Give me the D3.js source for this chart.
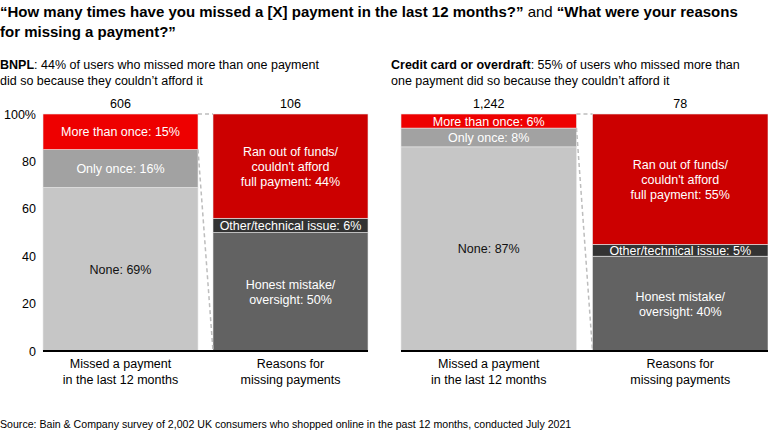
<!DOCTYPE html>
<html>
<head>
<meta charset="utf-8">
<script src="https://cdn.jsdelivr.net/npm/d3@7"></script>
<style>
  body { margin: 0; background: #fff; }
  svg { font-family: "Liberation Sans", Arial, sans-serif; }
</style>
</head>
<body>
<svg id="chart" width="768" height="432"></svg>
<script>
// data
var panelNames = ["BNPL", "Credit card or overdraft"];
var panelNotes = [
    [": 44% of users who missed more than one payment", "did so because they couldn\u2019t afford it"],
    [": 55% of users who missed more than", "one payment did so because they couldn\u2019t afford it"]
];
var barNames = [["Missed a payment", "in the last 12 months"], ["Reasons for", "missing payments"]];
var sampleSizes = [[606, 106], [1242, 78]];

var missedCats = ["None", "Only once", "More than once"];
var reasonCats = ["Honest mistake/oversight", "Other/technical issue", "Ran out of funds/couldn't afford full payment"];
var bnplMissed = [69, 16, 15];
var bnplReasons = [50, 6, 44];
var cardMissed = [87, 8, 6];
var cardReasons = [40, 5, 55];
var yTicks = [0, 20, 40, 60, 80, 100];

// label lines for each category (last line gets the value)
var labelLines = {
    "None": ["None: "],
    "Only once": ["Only once: "],
    "More than once": ["More than once: "],
    "Honest mistake/oversight": ["Honest mistake/", "oversight: "],
    "Other/technical issue": ["Other/technical issue: "],
    "Ran out of funds/couldn't afford full payment": ["Ran out of funds/", "couldn't afford", "full payment: "]
};
var fills = {
    "None": "#c6c6c6",
    "Only once": "#a2a2a2",
    "More than once": "#ee0000",
    "Honest mistake/oversight": "#626262",
    "Other/technical issue": "#333333",
    "Ran out of funds/couldn't afford full payment": "#cc0000"
};

var svg = d3.select("#chart");

// title
var title = svg.append("text").attr("x", 0).attr("y", 17).attr("font-size", 15).attr("fill", "#000");
title.append("tspan").attr("font-weight", "bold").text("\u201cHow many times have you missed a [X] payment in the last 12 months?\u201d");
title.append("tspan").text(" and ");
title.append("tspan").attr("font-weight", "bold").text("\u201cWhat were your reasons");
svg.append("text").attr("x", 0).attr("y", 37).attr("font-size", 15).attr("font-weight", "bold")
    .text("for missing a payment?\u201d");

var y = d3.scaleLinear().domain([0, 100]).range([351, 114]);

var panels = [
    { name: panelNames[0], note: panelNotes[0], x0: 0, range: [43, 368], pad: 15 / 170, sizes: sampleSizes[0],
      bars: [{ cats: missedCats, vals: bnplMissed }, { cats: reasonCats, vals: bnplReasons }] },
    { name: panelNames[1], note: panelNotes[1], x0: 391, range: [401, 768], pad: 16 / 191, sizes: sampleSizes[1],
      bars: [{ cats: missedCats, vals: cardMissed }, { cats: reasonCats, vals: cardReasons }] }
];

panels.forEach(function (p, pi) {
    var g = svg.append("g");

    // subtitle
    var sub = g.append("text").attr("x", p.x0).attr("y", 69).attr("font-size", 12.5);
    sub.append("tspan").attr("font-weight", "bold").text(p.name);
    sub.append("tspan").text(p.note[0]);
    g.append("text").attr("x", p.x0).attr("y", 85).attr("font-size", 12.5).text(p.note[1]);

    var x = d3.scaleBand().domain([0, 1]).range(p.range).paddingInner(p.pad).paddingOuter(0);

    p.bars.forEach(function (b, bi) {
        var total = d3.sum(b.vals);
        var segs = [];
        var acc = 0;
        b.vals.forEach(function (v, i) {
            segs.push({ cat: b.cats[i], v: v, y0: acc / total * 100, y1: (acc + v) / total * 100 });
            acc += v;
        });
        b.segs = segs;

        var bg = g.append("g");
        bg.selectAll("rect").data(segs).enter().append("rect")
            .attr("x", x(bi))
            .attr("width", x.bandwidth())
            .attr("y", function (d) { return y(d.y1); })
            .attr("height", function (d) { return y(d.y0) - y(d.y1); })
            .attr("fill", function (d) { return fills[d.cat]; })
            .attr("stroke", "#e8e8e8")
            .attr("stroke-width", 0.6);

        bg.selectAll("text.lbl").data(segs).enter().append("text")
            .attr("class", "lbl")
            .attr("text-anchor", "middle")
            .attr("font-size", 12.5)
            .attr("fill", function (d) { return d.cat === "None" ? "#111" : "#fff"; })
            .each(function (d) {
                var lines = labelLines[d.cat].slice();
                lines[lines.length - 1] += d.v + "%";
                var cy = (y(d.y0) + y(d.y1)) / 2;
                var lh = 15;
                var t = d3.select(this);
                lines.forEach(function (l, li) {
                    t.append("tspan")
                        .attr("x", x(bi) + x.bandwidth() / 2)
                        .attr("y", cy + (li - (lines.length - 1) / 2) * lh + 4.5)
                        .text(l);
                });
            });

        // sample size above bar
        g.append("text")
            .attr("x", x(bi) + x.bandwidth() / 2)
            .attr("y", 108)
            .attr("text-anchor", "middle")
            .attr("font-size", 12.5)
            .text(d3.format(",")(p.sizes[bi]));

        // bar name
        var nm = g.append("text").attr("text-anchor", "middle").attr("font-size", 12.5);
        barNames[bi].forEach(function (l, li) {
            nm.append("tspan").attr("x", x(bi) + x.bandwidth() / 2).attr("y", 368 + li * 16).text(l);
        });
    });

    // dashed connectors: from the "more than once" segment to the reasons bar
    var more = p.bars[0].segs[2];
    var xa = x(0) + x.bandwidth(), xb = x(1);
    var conn = [
        [[xa, y(more.y1)], [xb, y(100)]],
        [[xa, y(more.y0)], [xb, y(0)]]
    ];
    g.selectAll("path.conn").data(conn).enter().append("path")
        .attr("class", "conn")
        .attr("d", d3.line())
        .attr("fill", "none")
        .attr("stroke", "#bdbdbd")
        .attr("stroke-width", 1.5)
        .attr("stroke-dasharray", "4,3");

    // baseline
    g.append("line")
        .attr("x1", p.range[0]).attr("x2", p.range[1])
        .attr("y1", y(0)).attr("y2", y(0))
        .attr("stroke", "#000").attr("stroke-width", 2);

    // y axis on the first panel only
    if (pi === 0) {
        var ax = g.append("g").attr("transform", "translate(36,0)")
            .call(d3.axisLeft(y).tickValues(yTicks).tickSize(0).tickPadding(0)
                .tickFormat(function (d) { return d === 100 ? "100%" : d; }));
        ax.select(".domain").remove();
        ax.selectAll("text").attr("font-size", 12.5).attr("font-family", "Liberation Sans, Arial, sans-serif").attr("fill", "#000");
    }
});

// source
svg.append("text").attr("x", 0).attr("y", 428).attr("font-size", 10.6)
    .text("Source: Bain & Company survey of 2,002 UK consumers who shopped online in the past 12 months, conducted July 2021");
</script>
</body>
</html>
